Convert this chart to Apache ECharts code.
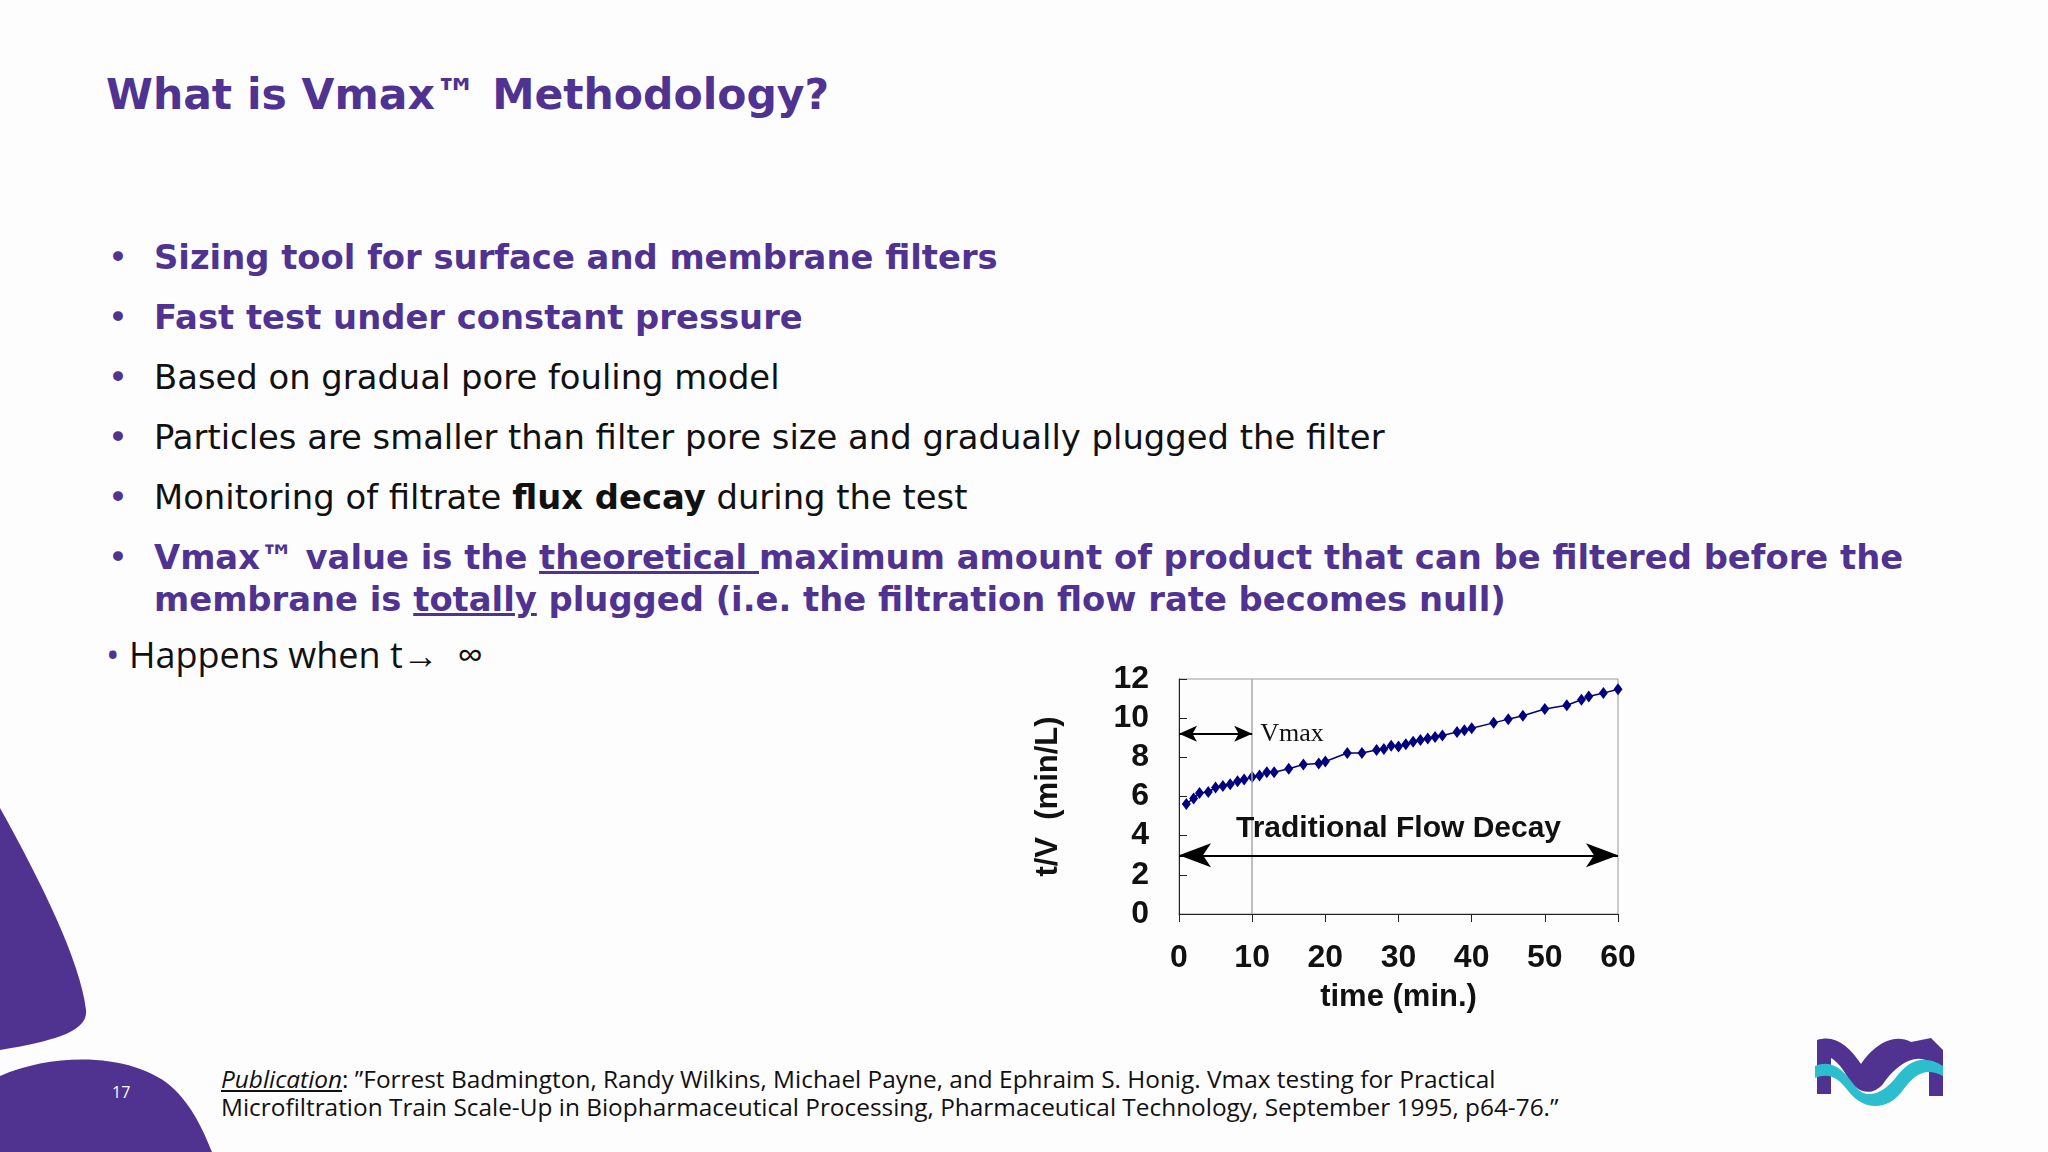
<!DOCTYPE html>
<html><head><meta charset="utf-8">
<script src="https://cdn.jsdelivr.net/npm/echarts@6/dist/echarts.min.js"></script>
<style>
html,body{margin:0;padding:0;width:2048px;height:1152px;background:#fdfdfe;overflow:hidden;font-family:"DejaVu Sans",Verdana,sans-serif;}
#chart{position:absolute;left:0;top:0;width:2048px;height:1152px;}
.t{position:absolute;white-space:nowrap;}
.title{left:106px;top:70px;font-size:42.5px;font-weight:bold;color:#503291;}
.b{left:108px;font-size:33.8px;color:#111;}
.b .d{color:#503291;display:inline-block;width:46px;}
.p{color:#503291;font-weight:bold;}
.foot{left:221px;font-size:24.4px;color:#111;font-family:"Open Sans","DejaVu Sans",sans-serif;}
</style></head><body>
<svg style="position:absolute;left:0;top:0" width="2048" height="1152">
<path d="M0,808 C40,880 80,960 86,1010 C88,1030 60,1040 0,1050 Z" fill="#503291"/>
<path d="M0,1076 C60,1050 140,1055 175,1090 C195,1110 205,1135 212,1152 L0,1152 Z" fill="#503291"/>
<g transform="translate(1815,1036)">
<path d="M2,58 L2,4 C20,-2 34,10 46,28 C58,10 78,-4 96,6 L116,2 L128,14 L128,60 L114,60 L114,26 C100,16 80,30 68,48 C56,62 40,56 32,40 C24,26 16,22 16,22 L16,58 Z" fill="#503291"/>
<path d="M0,30 C18,22 30,36 40,50 C52,66 70,56 82,40 C94,24 110,18 128,30 L128,40 C110,30 98,40 88,54 C74,74 50,76 34,56 C24,42 14,36 0,42 Z" fill="#2dbecd"/>
</g>
<text x="112" y="1098" font-size="16" fill="#fff" font-family="Open Sans">17</text>
</svg>
<div class="t title">What is Vmax™ Methodology?</div>
<div class="t b" style="top:238px"><span class="d">•</span><span class="p">Sizing tool for surface and membrane filters</span></div>
<div class="t b" style="top:298px"><span class="d">•</span><span class="p">Fast test under constant pressure</span></div>
<div class="t b" style="top:358px"><span class="d">•</span>Based on gradual pore fouling model</div>
<div class="t b" style="top:418px"><span class="d">•</span>Particles are smaller than filter pore size and gradually plugged the filter</div>
<div class="t b" style="top:478px"><span class="d">•</span>Monitoring of filtrate <b>flux decay</b> during the test</div>
<div class="t b" style="top:538px"><span class="d">•</span><span class="p">Vmax™ value is the <u>theoretical </u>maximum amount of product that can be filtered before the</span></div>
<div class="t b" style="top:580px"><span class="d"></span><span class="p">membrane is <u>totally</u> plugged (i.e. the filtration flow rate becomes null)</span></div>
<div class="t" style="left:106px;top:630px;font-size:36px;color:#111;font-family:'Open Sans',sans-serif;"><span style="color:#503291">•</span> Happens when t→&nbsp;&nbsp;∞</div>
<div class="t foot" style="top:1062px"><i><u>Publication</u></i>: ”Forrest Badmington, Randy Wilkins, Michael Payne, and Ephraim S. Honig. Vmax testing for Practical</div>
<div class="t foot" style="top:1090px">Microfiltration Train Scale-Up in Biopharmaceutical Processing, Pharmaceutical Technology, September 1995, p64-76.”</div>
<div id="chart"></div>
<script>
const times = [1,2,2.8,4,5,6,7,8,8.9,10,11,12,13,15,17,19.1,20,23,25,27,28,29,30,31,32,33,34,35,36,38,39,40,43,45,47,50,53,55,56,58,60];
const tOverV = [5.62,5.9,6.18,6.23,6.46,6.53,6.63,6.78,6.87,6.99,7.07,7.24,7.24,7.42,7.63,7.69,7.79,8.22,8.22,8.38,8.42,8.59,8.55,8.67,8.79,8.89,8.96,9.04,9.12,9.29,9.38,9.49,9.76,9.95,10.12,10.47,10.66,10.94,11.11,11.28,11.48];
const vmaxTime = 10;
const narrow = "'Liberation Sans Narrow','Liberation Sans',Arial,sans-serif";
const c = echarts.init(document.getElementById('chart'));
c.setOption({
  animation:false,
  grid:{left:1179,right:430,top:679,bottom:238,show:true,borderColor:'#999',borderWidth:1},
  xAxis:{type:'value',min:0,max:60,interval:10,
    name:'time (min.)',nameLocation:'middle',nameGap:68,
    nameTextStyle:{fontSize:31,fontWeight:'bold',color:'#111',fontFamily:narrow},
    axisLine:{lineStyle:{color:'#222'}},axisTick:{lineStyle:{color:'#222'},length:8},
    splitLine:{show:false},
    axisLabel:{fontSize:32,fontWeight:'bold',color:'#111',fontFamily:narrow,margin:28}},
  yAxis:{type:'value',min:0,max:12,interval:2,
    name:'t/V  (min/L)',nameLocation:'middle',nameGap:115,nameRotate:90,
    nameTextStyle:{fontSize:31,fontWeight:'bold',color:'#111',fontFamily:narrow},
    axisLine:{show:true,lineStyle:{color:'#222'}},axisTick:{show:true,inside:true,length:8,lineStyle:{color:'#222'}},
    splitLine:{show:false},
    axisLabel:{fontSize:32,fontWeight:'bold',color:'#111',fontFamily:narrow,margin:30}},
  series:[{
    type:'line',data:times.map((t,i)=>[t,tOverV[i]]),
    symbol:'diamond',symbolSize:[9,12],
    lineStyle:{color:'#000080',width:1.5},itemStyle:{color:'#000080'},
    markLine:{silent:true,animation:false,data:[
      [{coord:[vmaxTime,0],symbol:'none',lineStyle:{color:'#aaa',width:1.5,type:'solid'},label:{show:false}},{coord:[vmaxTime,12],symbol:'none'}],
      [{coord:[0,9.2],symbol:'arrow',symbolSize:[12,18],lineStyle:{color:'#000',width:2,type:'solid'},
        label:{show:true,position:'end',formatter:'Vmax',fontSize:26,color:'#111',fontFamily:"'Liberation Serif','Times New Roman',serif",distance:8}},
       {coord:[vmaxTime,9.2],symbol:'arrow',symbolSize:[12,18]}],
      [{coord:[0,3],symbol:'arrow',symbolSize:[18,32],lineStyle:{color:'#000',width:2,type:'solid'},
        label:{show:true,position:'insideMiddleTop',formatter:'Traditional Flow Decay',fontSize:30,fontWeight:'bold',color:'#111',fontFamily:narrow,distance:12}},
       {coord:[60,3],symbol:'arrow',symbolSize:[18,32]}]
    ]}
  }]
});
</script>
</body></html>
